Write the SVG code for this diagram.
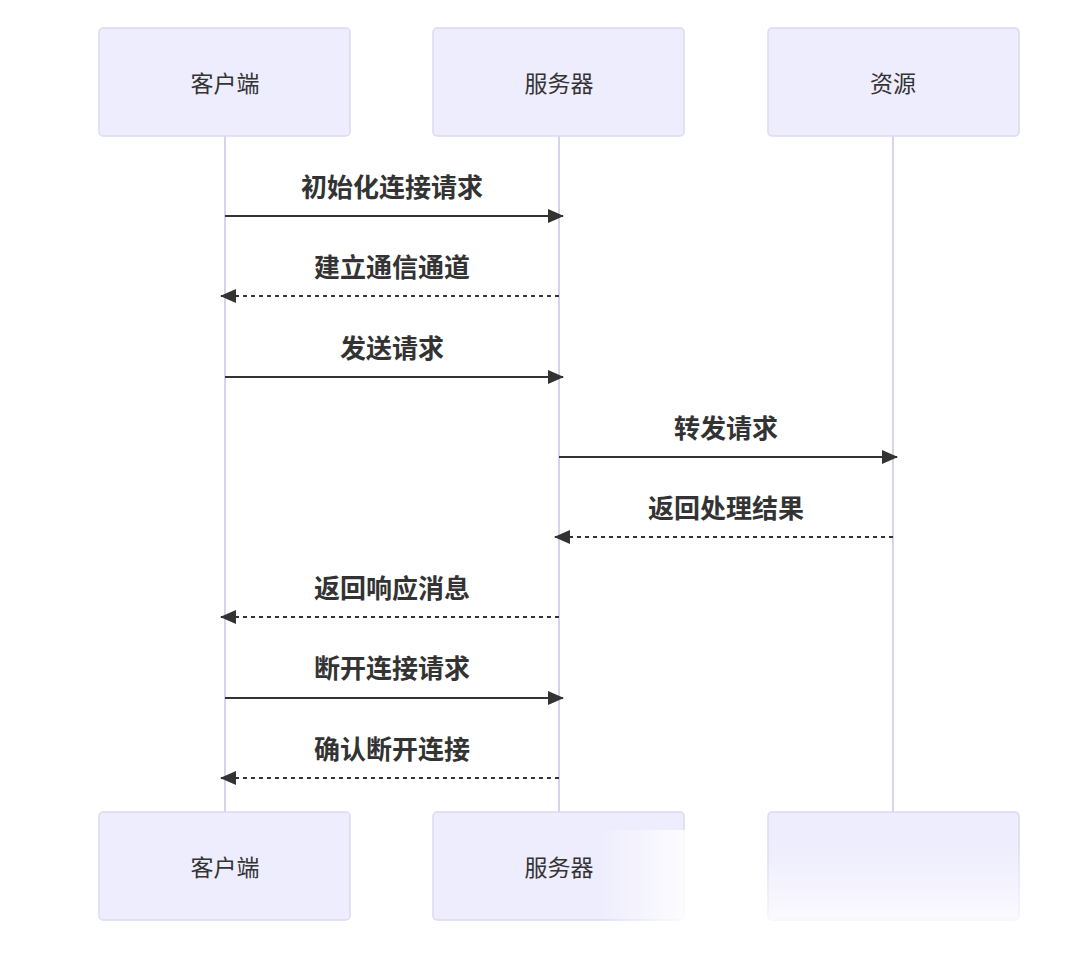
<svg xmlns="http://www.w3.org/2000/svg" width="1080" height="969" viewBox="0 0 1080 969">
<style>
.actor{fill:#eeedfd;stroke:#dcdaf0;stroke-width:1.5}
.atext{font-family:"Noto Sans CJK SC","Noto Sans",sans-serif;font-size:23px;fill:#333;text-anchor:middle;dominant-baseline:central}
.life{stroke:#d6d3ec;stroke-width:2}
.msg{stroke:#333;stroke-width:2;fill:none}
.dash{stroke-dasharray:4,4}
.mtext{font-family:"Noto Sans CJK SC","Noto Sans",sans-serif;font-size:26px;font-weight:bold;fill:#333;text-anchor:middle;dominant-baseline:central}
</style>
<defs>
<marker id="ah" markerWidth="16" markerHeight="14" refX="15" refY="7" orient="auto" markerUnits="userSpaceOnUse">
<path d="M0,0 L16,7 L0,14 Z" fill="#333"/>
</marker>
<linearGradient id="fade" x1="0" y1="0" x2="0" y2="1">
<stop offset="0" stop-color="#fff" stop-opacity="0"/>
<stop offset="0.25" stop-color="#fff" stop-opacity="0.1"/>
<stop offset="1" stop-color="#fff" stop-opacity="0.9"/>
</linearGradient>
<linearGradient id="fadeH" x1="0" y1="0" x2="1" y2="0">
<stop offset="0" stop-color="#fff" stop-opacity="0"/>
<stop offset="1" stop-color="#fff" stop-opacity="0.9"/>
</linearGradient>
</defs>
<rect width="1080" height="969" fill="#fff"/>
<g id="lifelines">
<line class="life" x1="225" y1="136" x2="225" y2="812"/>
<line class="life" x1="559" y1="136" x2="559" y2="812"/>
<line class="life" x1="893" y1="136" x2="893" y2="812"/>
</g>
<g id="actor-client-top"><rect class="actor" x="99" y="28" width="251" height="108" rx="4"/><text class="atext" x="225" y="82">客户端</text></g>
<g id="actor-server-top"><rect class="actor" x="433" y="28" width="251" height="108" rx="4"/><text class="atext" x="559" y="82">服务器</text></g>
<g id="actor-resource-top"><rect class="actor" x="768" y="28" width="251" height="108" rx="4"/><text class="atext" x="893" y="82">资源</text></g>
<g id="actor-client-bottom"><rect class="actor" x="99" y="812" width="251" height="108" rx="4"/><text class="atext" x="225" y="866">客户端</text></g>
<g id="actor-server-bottom"><rect class="actor" x="433" y="812" width="251" height="108" rx="4"/><text class="atext" x="559" y="866">服务器</text></g>
<g id="actor-resource-bottom"><rect class="actor" x="768" y="812" width="251" height="108" rx="4"/></g>
<g id="fade-overlay">
<rect x="598" y="830" width="92" height="100" fill="url(#fadeH)"/>
<rect x="760" y="835" width="270" height="100" fill="url(#fade)"/>
</g>
<g id="connectors">
<line class="msg" x1="225" y1="216" x2="563" y2="216" marker-end="url(#ah)"/>
<text class="mtext" x="392" y="185">初始化连接请求</text>
<line class="msg dash" x1="559" y1="296" x2="221" y2="296" marker-end="url(#ah)"/>
<text class="mtext" x="392" y="265">建立通信通道</text>
<line class="msg" x1="225" y1="377" x2="563" y2="377" marker-end="url(#ah)"/>
<text class="mtext" x="392" y="346">发送请求</text>
<line class="msg" x1="559" y1="457" x2="897" y2="457" marker-end="url(#ah)"/>
<text class="mtext" x="726" y="426">转发请求</text>
<line class="msg dash" x1="893" y1="537" x2="555" y2="537" marker-end="url(#ah)"/>
<text class="mtext" x="726" y="506">返回处理结果</text>
<line class="msg dash" x1="559" y1="617" x2="221" y2="617" marker-end="url(#ah)"/>
<text class="mtext" x="392" y="586">返回响应消息</text>
<line class="msg" x1="225" y1="698" x2="563" y2="698" marker-end="url(#ah)"/>
<text class="mtext" x="392" y="666">断开连接请求</text>
<line class="msg dash" x1="559" y1="778" x2="221" y2="778" marker-end="url(#ah)"/>
<text class="mtext" x="392" y="747">确认断开连接</text>
</g>
</svg>
